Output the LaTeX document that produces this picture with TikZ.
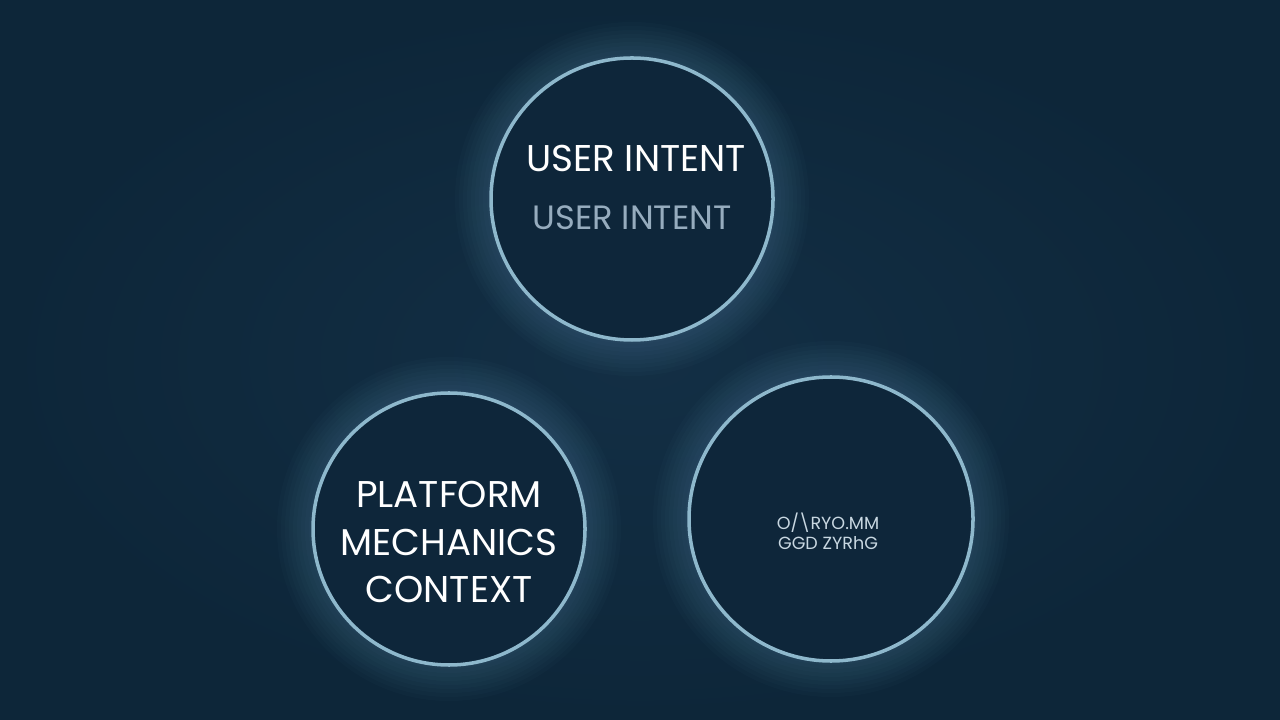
\documentclass[tikz,border=0pt]{standalone}
\usepackage{fontspec}
\setmainfont{Poppins}
\definecolor{bgnavy}{RGB}{19, 47, 69}
\definecolor{bgdeep}{RGB}{13, 38, 57}
\definecolor{ringblue}{RGB}{142, 184, 204}
\definecolor{glowblue}{RGB}{110, 165, 200}
\definecolor{discfill}{RGB}{14, 38, 58}
\definecolor{softgrey}{RGB}{150, 172, 190}
\definecolor{faintwhite}{RGB}{200, 215, 225}
\usetikzlibrary{positioning}

\begin{document}
\begin{tikzpicture}[
  ring/.style={circle, draw=ringblue, line width=1.0pt, fill=discfill, inner sep=0pt},
  bigtxt/.style={text=white, font=\fontsize{10.6}{13.4}\selectfont, align=center},
  dimtxt/.style={text=softgrey, font=\fontsize{9.6}{12}\selectfont, align=center},
  tinytxt/.style={text=faintwhite, font=\fontsize{5.0}{5.6}\selectfont, align=center}
]
  \shade[inner color=bgnavy, outer color=bgdeep] (0,0) rectangle (12.8,-7.2);
  \useasboundingbox (0,0) rectangle (12.8,-7.2);

  % soft halos behind the three discs
  \foreach \cx/\cy/\r in {6.32/-1.99/1.41, 4.49/-5.29/1.36, 8.31/-5.19/1.42} {
    \foreach \w in {0.36,0.32,...,0.02}
      \fill[glowblue, opacity=0.028] (\cx,\cy) circle (\r+\w);
  }

  \node[ring, minimum size=2.82cm] (intent) at (6.32,-1.99) {};
  \node[ring, minimum size=2.72cm] (platform) at (4.49,-5.29) {};
  \node[ring, minimum size=2.84cm] (garbled) at (8.31,-5.19) {};

  \node[bigtxt] (intenttop) at (6.36,-1.58) {USER INTENT};
  \node[dimtxt] (intentlow) at (6.32,-2.18) {USER INTENT};
  \node[bigtxt] (platformtxt) at (4.49,-5.42) {PLATFORM\\MECHANICS\\CONTEXT};
  \node[tinytxt] (garbledtxt) at (8.28,-5.31) {O/\textbackslash RYO.MM\\ GGD ZYRhG};
\end{tikzpicture}
\end{document}
